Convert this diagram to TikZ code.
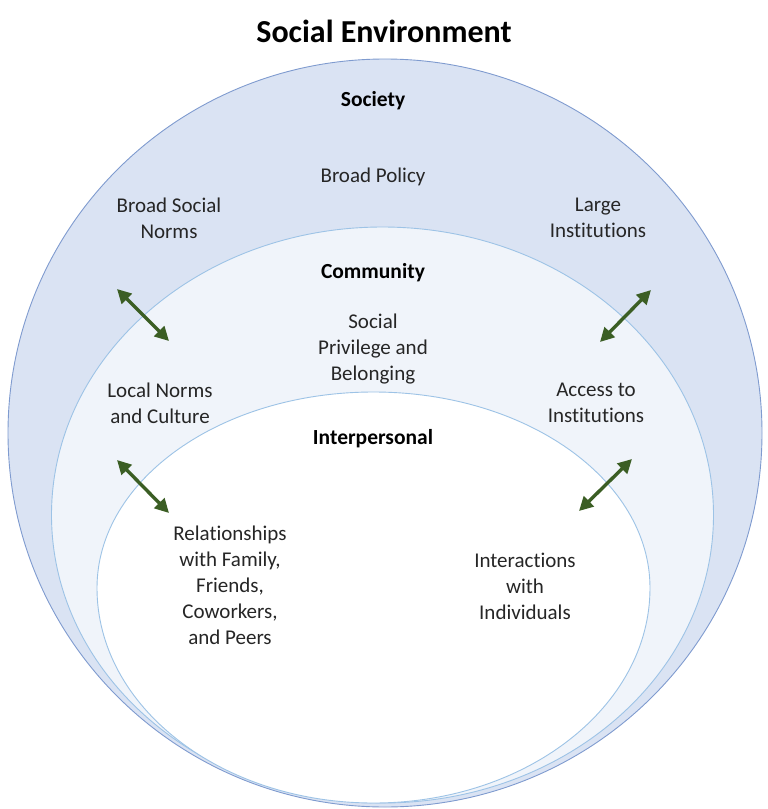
\documentclass[tikz,border=0pt]{standalone}
\usepackage{fontspec}
\setmainfont{Carlito}[Ligatures=NoCommon]
\usetikzlibrary{arrows.meta}
\definecolor{outerfill}{HTML}{DAE3F3}
\definecolor{outerline}{HTML}{7F9BCF}
\definecolor{midfill}{HTML}{F0F4FA}
\definecolor{midline}{HTML}{9DC3E6}
\definecolor{arrowgreen}{HTML}{3B5E24}
\definecolor{txt}{HTML}{262626}
\begin{document}
\begin{tikzpicture}[x=1pt,y=-1pt,
  lbl/.style={font=\fontsize{21}{26}\selectfont, text=txt, align=center, inner sep=0pt},
  hdr/.style={font=\fontsize{21.5}{26}\selectfont\bfseries, text=black, inner sep=0pt},
  ttl/.style={font=\fontsize{32}{38}\selectfont\bfseries, text=black, inner sep=0pt},
  dbl/.style={draw=arrowgreen, line width=3.4pt, {Triangle[length=14pt,width=14pt]}-{Triangle[length=14pt,width=14pt]}}]
\useasboundingbox (0,0) rectangle (768,809);
% rings
\draw[fill=outerfill, draw=outerline, line width=0.9pt] (385,433) ellipse [x radius=377, y radius=374];
\draw[fill=midfill, draw=midline, line width=0.9pt] (382.5,515) ellipse [x radius=331, y radius=288];
\draw[fill=white, draw=midline, line width=0.9pt] (97,588) arc [start angle=180, end angle=360, x radius=276.5, y radius=196]
  arc [start angle=0, end angle=180, x radius=276.5, y radius=215] -- cycle;
% title and labels
\node[ttl] (title) at (384,31) {Social Environment};
\node[hdr] (society) at (373,101) {Society};
\node[lbl] (policy) at (373,177) {Broad Policy};
\node[lbl] (norms) at (169,218) {Broad Social\\Norms};
\node[lbl] (large) at (598,218) {Large\\Institutions};
\node[hdr] (community) at (373,273) {Community};
\node[lbl] (privilege) at (373,349) {Social\\Privilege and\\Belonging};
\node[lbl] (local) at (160,403) {Local Norms\\and Culture};
\node[lbl] (access) at (596,403) {Access to\\Institutions};
\node[hdr] (interpersonal) at (373,439) {Interpersonal};
\node[lbl] (relations) at (230,585) {Relationships\\with Family,\\Friends,\\Coworkers,\\and Peers};
\node[lbl] (interactions) at (525,586) {Interactions\\with\\Individuals};
% arrows
\coordinate (a1s) at (117,289); \coordinate (a1e) at (169,341);
\coordinate (a2s) at (651,290); \coordinate (a2e) at (600,342);
\coordinate (a3s) at (117,460); \coordinate (a3e) at (169,513);
\coordinate (a4s) at (632,459); \coordinate (a4e) at (579,511);
\draw[dbl] (a1s) -- (a1e);
\draw[dbl] (a2s) -- (a2e);
\draw[dbl] (a3s) -- (a3e);
\draw[dbl] (a4s) -- (a4e);
\end{tikzpicture}
\end{document}
